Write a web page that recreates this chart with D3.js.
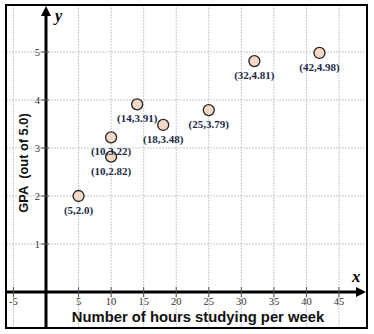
<!DOCTYPE html>
<html><head><meta charset="utf-8">
<script src="https://cdn.jsdelivr.net/npm/d3@7"></script>
<style>body{margin:0;background:#fff}svg{display:block}</style>
</head><body>
<svg id="c" width="374" height="334"></svg>
<script>
const hours = [5, 10, 10, 14, 18, 25, 32, 42];
const gpa = [2.0, 2.82, 3.22, 3.91, 3.48, 3.79, 4.81, 4.98];
const pointLabels = ["(5,2.0)", "(10,2.82)", "(10,3.22)", "(14,3.91)", "(18,3.48)", "(25,3.79)", "(32,4.81)", "(42,4.98)"];
const xTicks = [-5, 5, 10, 15, 20, 25, 30, 35, 40, 45];
const yTicks = [1, 2, 3, 4, 5];
const xTitle = "Number of hours studying per week";
const yTitle = "GPA\u00a0\u00a0(out of 5.0)";

const svg = d3.select("#c");
const x = d3.scaleLinear().domain([0, 45]).range([46, 339]);
const y = d3.scaleLinear().domain([0, 5]).range([292, 52]);
const L = 6, R = 367, T = 5, B = 328;

// grid
const g = svg.append("g");
g.selectAll("line.vx").data(xTicks).enter().append("line")
  .attr("x1", d => x(d)).attr("x2", d => x(d)).attr("y1", T).attr("y2", B)
  .attr("stroke", "#c8c8c8").attr("stroke-width", 1).attr("stroke-dasharray", "2,1");
g.selectAll("line.hy").data(yTicks).enter().append("line")
  .attr("y1", d => y(d)).attr("y2", d => y(d)).attr("x1", L).attr("x2", R)
  .attr("stroke", "#c8c8c8").attr("stroke-width", 1).attr("stroke-dasharray", "2,1");

// border
svg.append("rect").attr("x", L).attr("y", T).attr("width", R - L).attr("height", B - T)
  .attr("fill", "none").attr("stroke", "#000").attr("stroke-width", 2);

// axes lines
svg.append("line").attr("x1", x(0)).attr("x2", x(0)).attr("y1", B).attr("y2", 14)
  .attr("stroke", "#000").attr("stroke-width", 3);
svg.append("path").attr("d", `M${x(0)},6 L${x(0)-5},16 L${x(0)+5},16 Z`).attr("fill", "#000");
svg.append("line").attr("x1", L).attr("x2", 357).attr("y1", y(0)).attr("y2", y(0))
  .attr("stroke", "#000").attr("stroke-width", 3);
svg.append("path").attr("d", `M366,${y(0)} L356,${y(0)-5} L356,${y(0)+5} Z`).attr("fill", "#000");

// ticks
svg.selectAll("line.xt").data(xTicks).enter().append("line")
  .attr("x1", d => x(d)).attr("x2", d => x(d)).attr("y1", y(0) - 5).attr("y2", y(0) + 5)
  .attr("stroke", "#555").attr("stroke-width", 1);
svg.selectAll("text.xt").data(xTicks).enter().append("text")
  .attr("x", d => x(d)).attr("y", 305).attr("text-anchor", "middle")
  .attr("font-family", "Liberation Serif").attr("font-size", 10.5).attr("fill", "#333")
  .text(d => d);
svg.selectAll("line.yt").data(yTicks).enter().append("line")
  .attr("y1", d => y(d)).attr("y2", d => y(d)).attr("x1", x(0) - 5).attr("x2", x(0) + 3)
  .attr("stroke", "#555").attr("stroke-width", 1);
svg.selectAll("text.yt").data(yTicks).enter().append("text")
  .attr("x", 40).attr("y", d => y(d) + 3.5).attr("text-anchor", "end")
  .attr("font-family", "Liberation Serif").attr("font-size", 10.5).attr("fill", "#333")
  .text(d => d);

// axis letters
svg.append("text").attr("x", 55).attr("y", 21).attr("font-family", "Liberation Serif")
  .attr("font-style", "italic").attr("font-weight", "bold").attr("font-size", 16).text("y");
svg.append("text").attr("x", 352).attr("y", 282).attr("font-family", "Liberation Serif")
  .attr("font-style", "italic").attr("font-weight", "bold").attr("font-size", 17).text("x");

// titles
svg.append("text").attr("x", 198).attr("y", 322).attr("text-anchor", "middle")
  .attr("font-family", "Liberation Sans").attr("font-weight", "bold").attr("font-size", 14.8)
  .attr("fill", "#111").text(xTitle);
svg.append("text").attr("transform", "translate(28,163) rotate(-90)").attr("text-anchor", "middle")
  .attr("font-family", "Liberation Sans").attr("font-weight", "bold").attr("font-size", 12.8)
  .attr("fill", "#111").text(yTitle);

// points
const data = hours.map((h, i) => ({h, v: gpa[i], l: pointLabels[i]}));
svg.selectAll("circle.p").data(data).enter().append("circle")
  .attr("cx", d => x(d.h)).attr("cy", d => y(d.v)).attr("r", 5.5)
  .attr("fill", "#f3d8c5").attr("stroke", "#222").attr("stroke-width", 1.3);
svg.selectAll("text.p").data(data).enter().append("text")
  .attr("x", d => x(d.h)).attr("y", d => y(d.v) + 18).attr("text-anchor", "middle")
  .attr("font-family", "Liberation Serif").attr("font-weight", "bold").attr("font-size", 11)
  .attr("fill", "#1c2a48").text(d => d.l);
</script>
</body></html>
